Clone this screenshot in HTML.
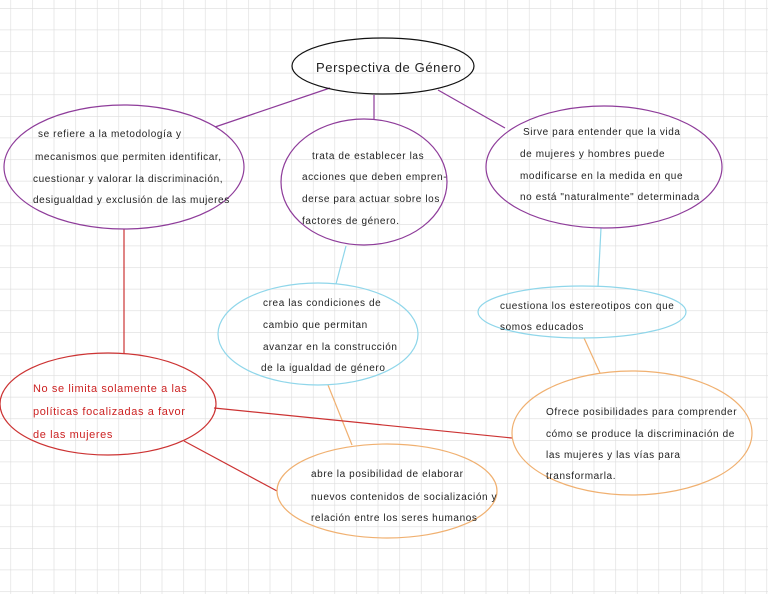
<!DOCTYPE html>
<html><head><meta charset="utf-8"><style>
html,body{margin:0;padding:0;background:#fff}
svg{display:block}
text{font-family:"Liberation Sans",sans-serif;font-size:10px;fill:#222;letter-spacing:0.6px}
</style></head><body>
<svg width="768" height="594" xmlns="http://www.w3.org/2000/svg">
<defs><pattern id="g" x="10.5" y="8" width="21.6" height="21.6" patternUnits="userSpaceOnUse">
<path d="M0 0H21.6M0 0V21.6" stroke="#dcdcdc" stroke-width="1.2" fill="none"/></pattern></defs>
<rect width="768" height="594" fill="url(#g)"/>
<g fill="none" stroke-width="1.2">
<line x1="330" y1="88" x2="215" y2="127" stroke="#8e3c9a"/>
<line x1="374" y1="95" x2="374" y2="119" stroke="#8e3c9a"/>
<line x1="438" y1="90" x2="505" y2="128" stroke="#8e3c9a"/>
<line x1="124" y1="229" x2="124" y2="354" stroke="#c33"/>
<line x1="346" y1="246" x2="336" y2="284" stroke="#8fd6ea"/>
<line x1="601" y1="228" x2="598" y2="287" stroke="#8fd6ea"/>
<line x1="328" y1="385" x2="352" y2="445" stroke="#f0b070"/>
<line x1="584" y1="338" x2="600" y2="373" stroke="#f0b070"/>
<line x1="214" y1="408" x2="512" y2="438" stroke="#c33"/>
<line x1="184" y1="441" x2="277" y2="491" stroke="#c33"/>
<ellipse cx="383" cy="66" rx="91" ry="28" stroke="#111"/>
<ellipse cx="124" cy="167" rx="120" ry="62" stroke="#8e3c9a"/>
<ellipse cx="364" cy="182" rx="83" ry="63" stroke="#8e3c9a"/>
<ellipse cx="604" cy="167" rx="118" ry="61" stroke="#8e3c9a"/>
<ellipse cx="318" cy="334" rx="100" ry="51" stroke="#8fd6ea"/>
<ellipse cx="582" cy="312" rx="104" ry="26" stroke="#8fd6ea"/>
<ellipse cx="108" cy="404" rx="108" ry="51" stroke="#c33"/>
<ellipse cx="632" cy="433" rx="120" ry="62" stroke="#f0b070"/>
<ellipse cx="387" cy="491" rx="110" ry="47" stroke="#f0b070"/>
</g>
<text x="316" y="72" style="font-size:13px">Perspectiva  de  Género</text>
<text x="38" y="137">se refiere a la metodología y</text>
<text x="35" y="160">mecanismos que permiten identificar,</text>
<text x="33" y="182">cuestionar y valorar la discriminación,</text>
<text x="33" y="203">desigualdad y exclusión de las mujeres</text>
<text x="312" y="159">trata de establecer las</text>
<text x="302" y="180">acciones que deben empren-</text>
<text x="302" y="202">derse para actuar sobre los</text>
<text x="302" y="224">factores de género.</text>
<text x="523" y="135">Sirve para entender que la vida</text>
<text x="520" y="157">de mujeres y hombres puede</text>
<text x="520" y="179">modificarse en la medida en que</text>
<text x="520" y="200">no está "naturalmente" determinada</text>
<text x="263" y="306">crea las condiciones de</text>
<text x="263" y="328">cambio que permitan</text>
<text x="263" y="350">avanzar en la construcción</text>
<text x="261" y="371">de la igualdad de género</text>
<text x="500" y="309">cuestiona los estereotipos con que</text>
<text x="500" y="330">somos educados</text>
<text x="33" y="392" style="fill:#c22;font-size:11px">No se limita solamente a las</text>
<text x="33" y="415" style="fill:#c22;font-size:11px">políticas focalizadas a favor</text>
<text x="33" y="438" style="fill:#c22;font-size:11px">de las mujeres</text>
<text x="546" y="415">Ofrece posibilidades para comprender</text>
<text x="546" y="437">cómo se produce la discriminación de</text>
<text x="546" y="458">las mujeres y las vías para</text>
<text x="546" y="479">transformarla.</text>
<text x="311" y="477">abre la posibilidad de elaborar</text>
<text x="311" y="500">nuevos contenidos de socialización y</text>
<text x="311" y="521">relación entre los seres humanos</text>
</svg>
</body></html>
